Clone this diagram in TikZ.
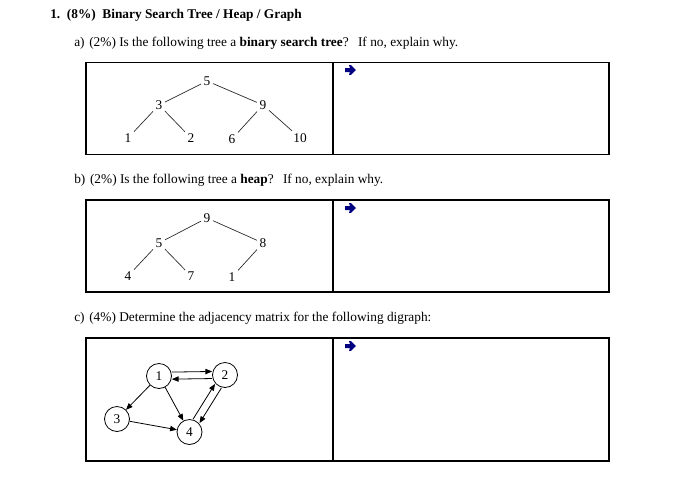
\documentclass[tikz,border=0pt]{standalone}
\usepackage{fontspec}
\setmainfont{Liberation Serif}
\usetikzlibrary{arrows.meta}
\begin{document}
\begin{tikzpicture}[x=0.75pt,y=-0.75pt,
  txt/.style={anchor=base west,inner sep=0pt,font=\fontsize{10}{12}\selectfont},
  box/.style={draw,line width=0.8pt},
  tn/.style={inner sep=1.8pt,font=\fontsize{10}{12}\selectfont},
  te/.style={draw=black!85,line width=0.5pt},
  gn/.style={draw,circle,minimum size=18.75pt,inner sep=0pt,line width=0.6pt,font=\fontsize{10}{12}\selectfont},
  ga/.style={draw,line width=0.6pt,-{Triangle[length=5pt,width=4pt]}},
  ans/.style={fill=blue!50!black,draw=none},
  ]
\useasboundingbox[fill=white] (0,0) rectangle (674,486);

% headings
\node[txt,font=\fontsize{10}{12}\selectfont\bfseries] (title) at (50,18) {1.\hspace{5pt}(8\%)\hspace{5pt}Binary Search Tree / Heap / Graph};
\node[txt] (qa) at (74,46) {a)\hspace{3.5pt}(2\%) Is the following tree a \textbf{binary search tree}?\hspace{7pt}If no, explain why.};
\node[txt] (qb) at (74,183) {b)\hspace{3.5pt}(2\%) Is the following tree a \textbf{heap}?\hspace{7pt}If no, explain why.};
\node[txt] (qc) at (74,321) {c)\hspace{3.5pt}(4\%) Determine the adjacency matrix for the following digraph:};

% boxes
\draw[box] (86,62.5) rectangle (609,154.5) (333,62.5) -- (333,154.5);
\draw[box] (86,200) rectangle (609,292) (333,200) -- (333,292);
\draw[box] (86,338) rectangle (609,461) (333,338) -- (333,461);

% answer arrows
\foreach \yy in {70,208,346}{
  \fill[ans] (345,\yy-2) -- (350,\yy-2) -- (349,\yy-4.8) -- (351,\yy-4.8) -- (356,\yy) -- (351,\yy+4.8) -- (349,\yy+4.8) -- (350,\yy+2) -- (345,\yy+2) -- cycle;
}

% tree a
\node[tn] (a5) at (207,81) {5};
\node[tn] (a3) at (159,105) {3};
\node[tn] (a9) at (263,105) {9};
\node[tn] (a1) at (128,138) {1};
\node[tn] (a2) at (191,138) {2};
\node[tn] (a6) at (232,139) {6};
\node[tn] (a10) at (300,138) {10};
\draw[te] (a5) -- (a3);
\draw[te] (a5) -- (a9);
\draw[te] (a3) -- (a1);
\draw[te] (a3) -- (a2);
\draw[te] (a9) -- (a6);
\draw[te] (a9) -- (a10);

% tree b
\node[tn] (b9) at (207,218) {9};
\node[tn] (b5) at (159,243) {5};
\node[tn] (b8) at (263,243) {8};
\node[tn] (b4) at (128,276) {4};
\node[tn] (b7) at (191,276) {7};
\node[tn] (b1) at (232,277) {1};
\draw[te] (b9) -- (b5);
\draw[te] (b9) -- (b8);
\draw[te] (b5) -- (b4);
\draw[te] (b5) -- (b7);
\draw[te] (b8) -- (b1);

% graph c
\node[gn] (g1) at (159,376) {1};
\node[gn] (g2) at (225,375) {2};
\node[gn] (g3) at (117,419) {3};
\node[gn] (g4) at (189.5,432) {4};
\draw[ga,transform canvas={yshift=2.8pt}] (g1) -- (g2);
\draw[ga,transform canvas={yshift=-2.5pt}] (g2) -- (g1);
\draw[ga] (g1) -- (g3);
\draw[ga] (g1) -- (g4);
\draw[ga] (g3) -- (g4);
\draw[ga,transform canvas={shift={(-3.2,-2)}}] (g4) -- (g2);
\draw[ga,transform canvas={shift={(3.2,2)}}] (g2) -- (g4);
\end{tikzpicture}
\end{document}
